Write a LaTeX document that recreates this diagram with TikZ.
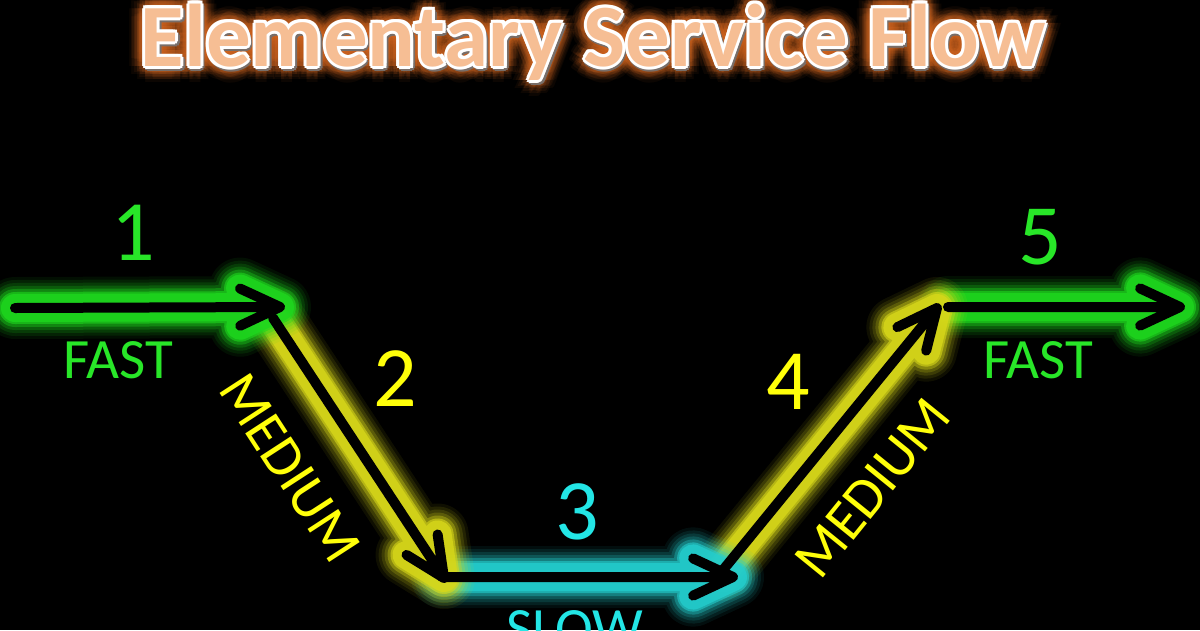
\documentclass[tikz,border=0pt]{standalone}
\usepackage{fontspec}
\setmainfont{Carlito}
\usetikzlibrary{calc}
\definecolor{gglow}{RGB}{30,215,30}
\definecolor{gtext}{RGB}{40,230,40}
\definecolor{yglow}{RGB}{215,215,25}
\definecolor{ytext}{RGB}{255,255,10}
\definecolor{cglow}{RGB}{35,205,205}
\definecolor{ctext}{RGB}{35,230,230}
\definecolor{tglow}{RGB}{215,105,35}
\definecolor{tfill}{RGB}{246,190,148}
\definecolor{tshadow}{RGB}{120,110,105}
\newcommand\titlestr{Elementary Service Flow}
\newcommand\glowarrow[3]{%
  \foreach \w/\o in {62/0.07,56/0.10,50/0.14,44/0.2,38/0.35,32/0.6,28/0.8}{%
    \draw[#3, line width=\w pt, opacity=\o, line cap=round, line join=round]
      (#1) -- (#2) -- ($(#2)!44pt!25:(#1)$) (#2) -- ($(#2)!44pt!-25:(#1)$);
  }%
}
\newcommand\blackarrow[2]{%
  \draw[black, line width=10pt, line cap=round, line join=round]
    (#1) -- (#2) -- ($(#2)!44pt!25:(#1)$) (#2) -- ($(#2)!44pt!-25:(#1)$);
}
\tikzset{
  bignum/.style={font=\fontsize{86pt}{90pt}\selectfont, inner sep=0pt},
  speed/.style={font=\fontsize{57pt}{60pt}\selectfont, inner sep=0pt},
  titlefont/.style={font=\fontsize{89pt}{92pt}\bfseries\selectfont, inner sep=0pt, anchor=base}
}
\begin{document}
\begin{tikzpicture}[x=1pt,y=-1pt]
\useasboundingbox (0,0) rectangle (1200,630);
\fill[black] (0,0) rectangle (1200,630);
\clip (0,0) rectangle (1200,630);

% title
\coordinate (T) at (593,66);
\foreach \r/\o in {16/0.06,13/0.08,10/0.11,7/0.15}{
  \foreach \a in {0,30,...,330}{
    \node[titlefont, text=tglow, text opacity=\o] at ($(T)+(\a:\r)$) {\titlestr};
  }
}
\foreach \a in {0,45,...,315}{
  \node[titlefont, text=tshadow] at ($(T)+(1.5,2.5)+(\a:3)$) {\titlestr};
}
\foreach \a in {0,45,...,315}{
  \node[titlefont, text=white] at ($(T)+(\a:3)$) {\titlestr};
}
\node[titlefont, text=tfill] (title) at (T) {\titlestr};

% arrow end points
\coordinate (s1) at (15,308);  \coordinate (e1) at (280,307);
\coordinate (s2) at (273,318); \coordinate (e2) at (444,578);
\coordinate (s3) at (442,577); \coordinate (e3) at (733,577);
\coordinate (s4) at (723,570); \coordinate (e4) at (937,308);
\coordinate (s5) at (948,307); \coordinate (e5) at (1180,307);

\glowarrow{s5}{e5}{gglow}
\glowarrow{s4}{e4}{yglow}
\glowarrow{s3}{e3}{cglow}
\glowarrow{s2}{e2}{yglow}
\glowarrow{s1}{e1}{gglow}

\blackarrow{s5}{e5}
\blackarrow{s4}{e4}
\blackarrow{s3}{e3}
\blackarrow{s2}{e2}
\blackarrow{s1}{e1}

% labels
\node[bignum, text=gtext] (n1) at (133,233) {1};
\node[bignum, text=ytext] (n2) at (395,379) {2};
\node[bignum, text=ctext] (n3) at (577,512) {3};
\node[bignum, text=ytext] (n4) at (788,382) {4};
\node[bignum, text=gtext] (n5) at (1040,237) {5};

\node[speed, text=gtext] (f1) at (118,360) {FAST};
\node[speed, text=gtext] (f5) at (1038,360) {FAST};
\node[speed, text=ytext, rotate=-57] (m2) at (290,468) {MEDIUM};
\node[speed, text=ytext, rotate=51] (m4) at (873,488) {MEDIUM};
\node[speed, text=ctext, anchor=base] (sl) at (575,647) {SLOW};
\end{tikzpicture}
\end{document}
